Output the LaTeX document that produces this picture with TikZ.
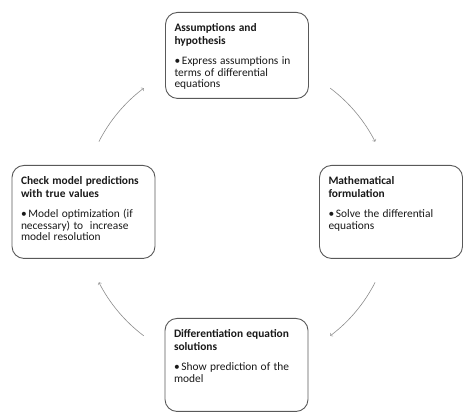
\documentclass[tikz,border=0pt]{standalone}
\usepackage{fontspec}
\setmainfont{Carlito}
\newcommand\stagetitle[1]{{\bfseries\fontsize{11.4}{13}\selectfont #1\par}\vspace{8.3pt}}
\newcommand\stageitem[1]{{\fontsize{11.4}{11.7}\selectfont\hangindent=7.5pt\hangafter=1\noindent\makebox[7.5pt][l]{\textbullet}#1\par}}
\tikzset{
  stage/.style={draw=black!65, line width=0.9pt, rounded corners=12pt, fill=white,
    inner xsep=9pt, inner ysep=0pt, text width=125pt, align=left,
    text height=19pt, text depth=74pt, anchor=north, text=black!90},
  flow/.style={->, draw=black!45, line width=0.6pt}
}
\begin{document}
\begin{tikzpicture}[x=1pt, y=1pt]
  \useasboundingbox (0,0) rectangle (474,420);
  \def\Xl{83.5};
  \def\Xm{237};
  \def\Xr{391};
  \def\Yt{408}; % top row
  \def\Ym{255}; % middle row
  \def\Yb{102}; % bottom row

        % stages
        \node[stage, text depth=67pt] (assume) at (\Xm, \Yt)
          {\stagetitle{Assumptions and\\hypothesis}\stageitem{Express assumptions in\\terms of differential\\equations}};
        \node[stage] (formul) at (\Xr, \Ym)
          {\stagetitle{Mathematical\\formulation}\stageitem{Solve the differential\\equations}};
        \node[stage] (solve) at (\Xm - 0.5, \Yb)
          {\stagetitle{Differentiation equation\\solutions}\stageitem{Show prediction of the\\model}};
        \node[stage] (check) at (\Xl, \Ym)
          {\stagetitle{Check model predictions\\with true values}\stageitem{Model optimization (if\\necessary) to\ \ increase\\model resolution}};

        % cycle arrows
        \coordinate (hub) at (\Xm, 208);
        \foreach \a [count=\i] in {53, -27, -127, 153} {
          \coordinate (arc\i) at ([shift={(\a:155pt)}]hub);
          \draw[flow] (arc\i) arc[start angle=\a, end angle=\a - 26, radius=155pt];
        }
\end{tikzpicture}
\end{document}
